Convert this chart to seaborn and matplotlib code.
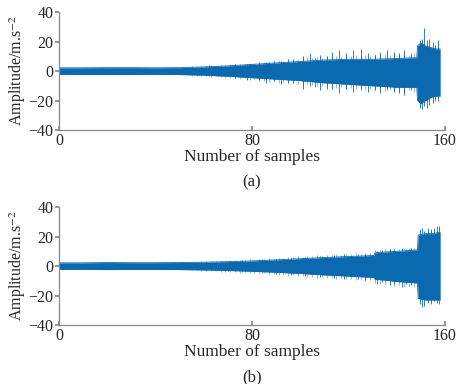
import numpy as np
import pandas as pd
import matplotlib
matplotlib.use("Agg")
import matplotlib.pyplot as plt
import seaborn as sns

# Envelope of signal (a)
a_x = [0, 10, 20, 30, 40, 50, 60, 70, 80, 90, 100, 110, 120, 130, 140, 147, 148.3, 148.6, 150, 152, 154, 156, 158]
a_upper = [2.2, 2.2, 2.3, 2.3, 2.2, 2.3, 2.8, 3.5, 4.5, 5.5, 6.5, 7.5, 8, 8, 8.5, 9, 9, 17, 19, 17, 16, 15, 15]
a_lower = [-2.2, -2.3, -2.3, -2.3, -2.2, -2.4, -2.8, -3.5, -4.5, -5.5, -6.5, -8, -9, -10, -11, -11, -11, -20, -22, -20, -18, -17, -17]

# Large spikes of signal (a)
a_spk_x = [62, 66, 73, 78, 83, 86, 89, 92, 95, 97, 101, 104, 106, 108, 111, 113, 116, 119, 122, 125, 128, 131,
           133, 136, 139, 141, 143, 146, 149.5, 150.5, 151.5, 152.5, 153.5, 155, 156, 157]
a_spk_hi = [4, 3.5, 5, 4.5, 5.5, 6, 6.5, 7, 8, 8, 10, 12, 9, 11, 10, 13, 14, 12, 14, 15, 12, 11,
            13, 14, 13, 12, 14, 12, 21, 22, 29, 21, 22, 20, 18, 21]
a_spk_lo = [-3.5, -3.5, -5, -6, -6, -8, -7, -9, -8, -8, -12, -10, -11, -13, -12, -12, -15, -12, -14, -13, -14, -13,
            -15, -13, -14, -15, -16, -13, -25, -26, -24, -25, -23, -22, -20, -20]

# Small fringe spikes of signal (a)
fr_x = [55, 57, 59, 61, 63, 65, 67, 69, 71, 73, 75, 77, 79, 81, 83, 85, 87, 89, 91, 93, 95, 97, 99, 101,
        103, 105, 107, 109, 111, 113, 115, 117, 119, 121, 123, 125, 127, 129, 131, 133, 135, 137, 139, 141,
        143, 145, 147]
a_fr_hi = [3.2, 3.0, 3.6, 3.4, 3.9, 3.5, 4.2, 4.0, 4.6, 4.3, 5.0, 4.8, 5.5, 5.2, 6.0, 6.3, 6.8, 6.5, 7.4, 7.0,
           8.0, 7.6, 8.3, 8.8, 9.2, 8.6, 9.6, 9.1, 10.2, 9.5, 10.5, 9.8, 10.8, 10.1, 11.0, 10.4, 10.9, 10.2,
           11.3, 10.6, 11.5, 10.8, 11.7, 11.0, 12.0, 11.2, 12.0]
a_fr_lo = [-3.2, -3.1, -3.5, -3.6, -3.9, -3.7, -4.3, -4.1, -4.7, -4.5, -5.2, -5.0, -5.8, -5.5, -6.4, -6.6,
           -7.3, -7.0, -7.9, -7.6, -8.4, -8.1, -8.9, -9.4, -9.8, -9.2, -10.4, -10.0, -11.1, -10.6, -11.5,
           -11.0, -12.0, -11.4, -12.5, -11.8, -12.6, -12.1, -13.0, -12.4, -13.3, -12.8, -13.6, -13.0, -14.0,
           -13.2, -14.0]

# Envelope of signal (b)
b_x = [0, 10, 20, 30, 40, 50, 60, 70, 80, 90, 100, 110, 120, 128, 130.5, 131, 135, 140, 145, 148.6, 148.9, 152, 155, 158]
b_upper = [2.2, 2.2, 2.4, 2.3, 2.3, 2.4, 2.6, 3, 3.5, 4.2, 5, 5.8, 6.5, 7, 7.2, 9, 9.5, 10, 10.5, 11, 21, 22, 22, 23]
b_lower = [-2.2, -2.2, -2.4, -2.3, -2.3, -2.4, -2.6, -3, -3.5, -4.2, -5, -6, -6.8, -7.5, -7.7, -9, -9.5, -10.5, -11, -11.5, -22, -23, -23, -23]

# Large spikes of signal (b)
b_spk_x = [64, 70, 76, 84, 90, 96, 102, 108, 114, 118, 124, 127, 132, 134, 137, 139, 142, 144, 146,
           149.5, 150.5, 151.5, 153, 154, 155.5, 156.5, 157.5]
b_spk_hi = [3, 3.5, 4, 4.5, 5, 5.5, 6, 7, 7.5, 8, 8.5, 8.5, 10.5, 11, 11.5, 11, 12, 11.5, 12,
            25, 26, 24, 26, 25, 26, 27, 27]
b_spk_lo = [-3, -3.5, -4, -5, -5.5, -6, -7, -7.5, -8, -8.5, -9, -9.5, -12, -11, -13, -12.5, -14, -12, -13,
            -26, -28, -27, -25, -26, -24, -25, -26]

# Small fringe spikes of signal (b)
b_fr_hi = [3.0, 2.9, 3.2, 3.3, 3.4, 3.3, 3.7, 3.6, 4.0, 3.9, 4.3, 4.2, 4.5, 4.4, 4.9, 4.8, 5.3, 5.1, 5.7, 5.5,
           6.1, 5.9, 6.5, 6.3, 6.9, 6.7, 7.3, 7.1, 7.7, 7.5, 8.0, 7.8, 8.4, 8.2, 8.7, 8.5, 9.0, 8.6, 10.8,
           11.2, 11.6, 11.3, 12.0, 11.7, 12.4, 12.0, 12.6]
b_fr_lo = [-3.0, -3.0, -3.3, -3.3, -3.5, -3.4, -3.8, -3.7, -4.1, -4.0, -4.5, -4.3, -4.8, -4.6, -5.2, -5.0,
           -5.6, -5.4, -6.0, -5.8, -6.5, -6.2, -7.0, -6.7, -7.4, -7.1, -7.9, -7.6, -8.3, -8.0, -8.7, -8.4,
           -9.1, -8.8, -9.5, -9.2, -9.9, -9.6, -11.8, -12.4, -12.9, -12.5, -13.5, -13.0, -14.0, -13.4, -14.2]

x_ticks = [0, 80, 160]
y_ticks = [40, 20, 0, -20, -40]
panel_labels = ["(a)", "(b)"]

sns.set_theme(style="white")
plt.rcParams['font.family'] = ['Liberation Serif', 'DejaVu Serif']
plt.rcParams['mathtext.fontset'] = 'stix'

color = '#0b69af'
fig = plt.figure(figsize=(4.74, 3.84), dpi=100)

panels = [
    (a_x, a_upper, a_lower, a_spk_x, a_spk_hi, a_spk_lo, a_fr_hi, a_fr_lo, [0.1245, 0.6615, 0.8143, 0.307]),
    (b_x, b_upper, b_lower, b_spk_x, b_spk_hi, b_spk_lo, b_fr_hi, b_fr_lo, [0.1245, 0.1536, 0.8143, 0.307]),
]

for (px, up, lo, sx, shi, slo, fhi, flo, rect), lab in zip(panels, panel_labels):
    ax = fig.add_axes(rect)
    env = pd.DataFrame({'x': px, 'upper': up, 'lower': lo})
    ax.fill_between(env['x'], env['lower'], env['upper'], color=color, linewidth=0)
    sns.lineplot(data=env, x='x', y='upper', ax=ax, color=color, linewidth=0.6)
    sns.lineplot(data=env, x='x', y='lower', ax=ax, color=color, linewidth=0.6)
    ax.vlines(fr_x, flo, fhi, color=color, linewidth=0.4, alpha=0.8)
    ax.vlines(sx, slo, shi, color=color, linewidth=0.6)

    ax.set_xlim(0, 160)
    ax.set_ylim(-40, 40)
    ax.set_xticks(x_ticks)
    ax.set_yticks(y_ticks)
    ax.set_xlabel('Number of samples', fontsize=12.5, labelpad=0)
    ax.set_ylabel(r'Amplitude/m.s$^{-2}$', fontsize=11.5, labelpad=0.5)
    ax.tick_params(axis='x', direction='in', length=3, labelsize=11.5, pad=2, color='#888888')
    ax.tick_params(axis='y', direction='out', length=3, labelsize=11.5, pad=1, color='#888888')
    ax.tick_params(left=True, bottom=True)
    for s in ['top', 'right']:
        ax.spines[s].set_visible(False)
    for s in ['left', 'bottom']:
        ax.spines[s].set_color('#888888')
        ax.spines[s].set_linewidth(0.9)
    ax.text(0.5, -0.445, lab, transform=ax.transAxes, ha='center', va='center', fontsize=12)

fig.savefig('out.png', dpi=100)
